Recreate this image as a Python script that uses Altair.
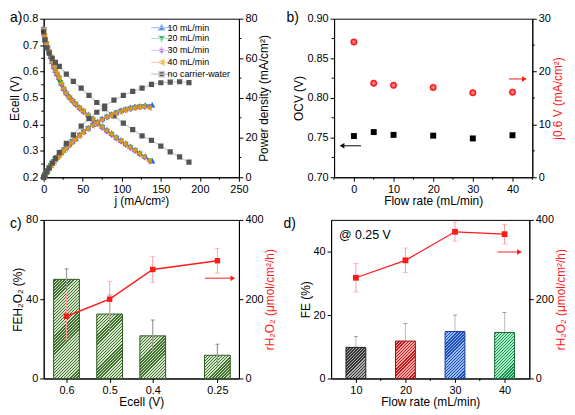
import altair as alt
import pandas as pd

FONT = "Liberation Sans"
RED = "#ff1a1a"

# ---------------- panel a data ----------------
series_names = ["10 mL/min", "20 mL/min", "30 mL/min", "40 mL/min", "no carrier-water"]
marker_colors = ["#1f63e6", "#17a356", "#a455e6", "#d99a1c", "#555555"]
line_colors = ["#a3c8f4", "#ade4c6", "#dfcaf5", "#f3d69e", "#c9c9c9"]
# marker outlines; the open "M-2,0H2" part is only seen in the legend (stroked there)
shape_paths = [
    "M-2,0H2M0,-0.6L0.6,0.48L-0.6,0.48Z",
    "M-2,0H2M0,0.6L0.6,-0.48L-0.6,-0.48Z",
    "M-2,0H2M0,-0.62L0.55,0L0,0.62L-0.55,0Z",
    "M-2,0H2M-0.6,0L0.48,-0.6L0.48,0.6Z",
    "M-2,0H2M-0.5,-0.5H0.5V0.5H-0.5Z",
]

j_10 = [0, 1, 2, 3.5, 5, 7, 9, 11, 13, 15, 17, 19.5, 22.5, 25.5, 29, 33, 37, 41, 46, 51, 57, 63, 69, 75, 81, 87, 93, 99, 105, 111, 117, 123, 130, 139]
E_10 = [0.765, 0.74, 0.722, 0.707, 0.69, 0.676, 0.657, 0.638, 0.62, 0.605, 0.592, 0.578, 0.557, 0.537, 0.52, 0.505, 0.492, 0.479, 0.465, 0.452, 0.437, 0.422, 0.407, 0.393, 0.379, 0.366, 0.352, 0.34, 0.328, 0.316, 0.304, 0.292, 0.279, 0.262]
P_10 = [0, 0.7, 1.4, 2.5, 3.5, 4.7, 5.9, 7.0, 8.1, 9.1, 10.1, 11.3, 12.5, 13.7, 15.1, 16.7, 18.2, 19.6, 21.4, 23.1, 24.9, 26.6, 28.1, 29.5, 30.7, 31.8, 32.7, 33.7, 34.4, 35.1, 35.6, 35.9, 36.3, 36.4]

j_20 = [0, 1, 2, 3.5, 5, 7, 9, 11, 13, 15, 17, 21, 23, 26, 29, 33, 37, 41, 46, 51, 57, 63, 69, 75, 81, 87, 93, 99, 105, 111, 117, 123, 129, 136]
E_20 = [0.758, 0.733, 0.718, 0.703, 0.688, 0.672, 0.652, 0.632, 0.615, 0.6, 0.587, 0.559, 0.548, 0.53, 0.514, 0.5, 0.487, 0.474, 0.46, 0.447, 0.432, 0.417, 0.402, 0.388, 0.374, 0.361, 0.348, 0.336, 0.324, 0.312, 0.3, 0.288, 0.276, 0.261]
P_20 = [0, 0.7, 1.4, 2.5, 3.4, 4.7, 5.9, 7.0, 8.0, 9.0, 10.0, 11.7, 12.6, 13.8, 14.9, 16.5, 18.0, 19.4, 21.2, 22.8, 24.6, 26.3, 27.7, 29.1, 30.3, 31.4, 32.4, 33.3, 34.0, 34.6, 35.1, 35.4, 35.6, 35.5]

j_30 = [0, 1, 2, 3.5, 5, 7, 9, 11, 13, 15, 17, 20, 23, 26, 29, 33, 37, 41, 46, 51, 57, 63, 69, 75, 81, 87, 93, 99, 105, 111, 117, 123, 129, 136]
E_30 = [0.762, 0.737, 0.72, 0.705, 0.69, 0.674, 0.654, 0.634, 0.617, 0.602, 0.589, 0.58, 0.55, 0.531, 0.515, 0.5, 0.487, 0.474, 0.46, 0.447, 0.432, 0.417, 0.402, 0.388, 0.374, 0.361, 0.348, 0.336, 0.324, 0.312, 0.3, 0.288, 0.276, 0.261]
P_30 = [0, 0.7, 1.4, 2.5, 3.5, 4.7, 5.9, 7.0, 8.0, 9.0, 10.0, 11.6, 12.7, 13.8, 14.9, 16.5, 18.0, 19.4, 21.2, 22.8, 24.6, 26.3, 27.7, 29.1, 30.3, 31.4, 32.4, 33.3, 34.0, 34.6, 35.1, 35.4, 35.6, 35.5]

j_40 = [0, 1, 2, 3.5, 5, 7, 9, 11, 13, 15, 17, 19, 22, 25, 28, 32, 36, 40, 45, 50, 56, 62, 68, 74, 80, 86, 92, 98, 104, 110, 116, 122, 128, 135]
E_40 = [0.76, 0.735, 0.72, 0.705, 0.69, 0.675, 0.655, 0.635, 0.618, 0.603, 0.59, 0.576, 0.555, 0.535, 0.518, 0.503, 0.49, 0.477, 0.463, 0.45, 0.435, 0.42, 0.405, 0.391, 0.377, 0.364, 0.35, 0.338, 0.326, 0.314, 0.302, 0.29, 0.278, 0.262]
P_40 = [0, 0.7, 1.4, 2.5, 3.5, 4.7, 5.9, 7.0, 8.0, 9.0, 10.0, 10.9, 12.2, 13.4, 14.5, 16.1, 17.6, 19.1, 20.8, 22.5, 24.4, 26.0, 27.5, 28.9, 30.2, 31.3, 32.2, 33.1, 33.9, 34.5, 35.0, 35.4, 35.6, 35.0]

j_nc = [0, 1.5, 4, 7, 11, 15, 20, 29, 38, 48, 58, 68, 78, 90, 102, 114, 126, 138, 150, 162, 174, 186]
E_nc = [0.75, 0.72, 0.69, 0.67, 0.65, 0.635, 0.62, 0.59, 0.563, 0.537, 0.51, 0.483, 0.46, 0.432, 0.405, 0.38, 0.357, 0.34, 0.318, 0.296, 0.277, 0.257]
P_nc = [0, 1.1, 2.8, 4.7, 7.2, 9.5, 12.4, 17.1, 21.4, 25.8, 29.6, 32.8, 35.9, 38.9, 41.3, 43.3, 45.0, 46.9, 47.7, 48.0, 48.2, 47.8]

minor_a_x = [25, 75, 125, 175, 225]
minor_a_E = [0.25, 0.35, 0.45, 0.55, 0.65, 0.75]
minor_a_P = [10, 30, 50, 70]

# ---------------- panel b data ----------------
flow_b = [0, 5, 10, 20, 30, 40]
ocv_b = [0.752, 0.757, 0.7535, 0.7525, 0.749, 0.753]
j06_b = [25.6, 17.8, 17.4, 17.0, 16.0, 16.1]
minor_b_x = [-5, 5, 15, 25, 35, 45]
minor_b_ocv = [0.725, 0.775, 0.825, 0.875]
minor_b_j = [5, 15, 25]

# ---------------- panel c data ----------------
ecell_c = [0.6, 0.5, 0.4, 0.25]
fe_c = [50.0, 32.5, 21.5, 11.7]
fe_c_err = [5.3, 9.6, 8.0, 5.6]
r_c = [157, 200, 275, 297]
r_c_err = [58, 45, 33, 31]

# ---------------- panel d data ----------------
flow_d = [10, 20, 30, 40]
fe_d = [9.8, 11.8, 14.8, 14.5]
fe_d_err = [3.4, 5.5, 5.2, 6.3]
r_d = [254, 298, 370, 364]
r_d_err = [36, 31, 24, 25]
hatch_d_dark = ["#333333", "#c01c1c", "#1b4cbc", "#17924f"]
hatch_d_light = ["#b0b0b0", "#f8a8a8", "#98bbf6", "#aaeec8"]
bar_d_stroke = ["#1e1e1e", "#8e1010", "#163a8c", "#156b3c"]
minor_d_x = [15, 25, 35]

# annotation arrows (data coordinates)
arrow_b_left = {"flow": [1.8], "flow2": [-3.0], "ocv": [0.7397]}
arrow_b_right = {"flow": [39.1], "flow2": [43.0], "j06": [18.6]}
arrow_c = {"ecell": [0.279], "ecell2": [0.214], "r": [253]}
arrow_d = {"flow": [38.6], "flow2": [43.0], "r": [319]}

WL, WR, H = 197, 200, 160
MT = 2.5        # minor tick length
BAR_C, BAR_D = 26, 20
HATCH = 1.5     # hatch period (px)
DARK_FRAC = 0.45


def panel_label(txt, dx, dy):
    return alt.Chart(pd.DataFrame({"t": [txt]})).mark_text(
        align="left", baseline="alphabetic", fontSize=14, font=FONT, color="black"
    ).encode(x=alt.value(dx), y=alt.value(dy), text="t:N")


def right_axis(title, values, color="black"):
    return alt.Axis(orient="right", values=values, title=title, titleColor=color,
                    titleAngle=270, titleBaseline="top", titlePadding=2)


def minor_x(field, values, xenc, h):
    return alt.Chart(pd.DataFrame({field: values})).mark_rule(color="black", strokeWidth=1).encode(
        x=xenc, y=alt.value(h), y2=alt.value(h + MT))


def minor_y(field, values, yenc, xpos, sign):
    return alt.Chart(pd.DataFrame({field: values})).mark_rule(color="black", strokeWidth=1).encode(
        y=yenc, x=alt.value(xpos), x2=alt.value(xpos + sign * MT))


def hatch_fill(w, h, dark, light):
    """Diagonal (/) stripes drawn with a linear gradient in the bar's bounding box."""
    s = (w + h) / (w * w + h * h)
    n = max(1, int(round((w + h) / HATCH)))
    stops = []
    for k in range(n):
        a, m, b = k / n, (k + DARK_FRAC) / n, (k + 1) / n
        stops += [alt.GradientStop(color=dark, offset=a), alt.GradientStop(color=dark, offset=m),
                  alt.GradientStop(color=light, offset=m), alt.GradientStop(color=light, offset=b)]
    return alt.Gradient(gradient="linear", x1=0, y1=0, x2=w * s, y2=h * s, stops=stops)


# ================= panel a =================
rows = []
for name, js, es, ps in zip(series_names, [j_10, j_20, j_30, j_40, j_nc],
                            [E_10, E_20, E_30, E_40, E_nc], [P_10, P_20, P_30, P_40, P_nc]):
    for jj, ee, pp in zip(js, es, ps):
        rows.append({"series": name, "j": jj, "E": ee, "P": pp})
df_a = pd.DataFrame(rows)

leg_a = alt.Legend(title=None, orient="none", legendX=113, legendY=3,
                   symbolSize=110, symbolStrokeWidth=1.2, labelFontSize=9, labelFont=FONT,
                   rowPadding=0, labelOffset=0, padding=0)

x_a = alt.X("j:Q", scale=alt.Scale(domain=[0, 250], nice=False),
            axis=alt.Axis(values=[0, 50, 100, 150, 200, 250], title="j (mA/cm²)"))
y_E = alt.Y("E:Q", scale=alt.Scale(domain=[0.2, 0.8], nice=False, zero=False),
            axis=alt.Axis(values=[0.2, 0.3, 0.4, 0.5, 0.6, 0.7, 0.8], format=".1f", title="Ecell (V)"))
y_P = alt.Y("P:Q", scale=alt.Scale(domain=[0, 80], nice=False),
            axis=right_axis("Power density (mA/cm²)", [0, 20, 40, 60, 80]))

stroke_a = alt.Stroke("series:N", scale=alt.Scale(domain=series_names, range=line_colors), legend=leg_a)
fill_a = alt.Fill("series:N", scale=alt.Scale(domain=series_names, range=marker_colors), legend=leg_a)
shape_a = alt.Shape("series:N", scale=alt.Scale(domain=series_names, range=shape_paths), legend=leg_a)

base_a = alt.Chart(df_a)
lineE = base_a.mark_line(strokeWidth=1.2).encode(x=x_a, y=y_E, stroke=stroke_a)
ptsE = base_a.mark_point(filled=True, size=110, opacity=1, strokeWidth=0).encode(x=x_a, y=y_E, fill=fill_a, shape=shape_a)
lineP = base_a.mark_line(strokeWidth=1.2).encode(x=x_a, y=y_P, stroke=stroke_a)
ptsP = base_a.mark_point(filled=True, size=110, opacity=1, strokeWidth=0).encode(x=x_a, y=y_P, fill=fill_a, shape=shape_a)

panel_a = alt.layer(
    alt.layer(lineE, ptsE,
              minor_x("j", minor_a_x, x_a, H), minor_y("E", minor_a_E, y_E, 0, -1),
              panel_label("a)", -34, 3)),
    alt.layer(lineP, ptsP, minor_y("P", minor_a_P, y_P, WL, 1)),
).resolve_scale(y="independent").properties(width=WL, height=H)

# ================= panel b =================
df_b = pd.DataFrame({"flow": flow_b, "ocv": ocv_b, "j06": j06_b})
sc_b = alt.Scale(domain=[-5, 45], nice=False, zero=False)
x_b = alt.X("flow:Q", scale=sc_b, axis=alt.Axis(values=[0, 10, 20, 30, 40], title="Flow rate (mL/min)"))
y_ocv = alt.Y("ocv:Q", scale=alt.Scale(domain=[0.7, 0.9], nice=False, zero=False),
              axis=alt.Axis(values=[0.7, 0.75, 0.8, 0.85, 0.9], format=".2f", title="OCV (V)"))
y_j06 = alt.Y("j06:Q", scale=alt.Scale(domain=[0, 30], nice=False),
              axis=right_axis("j0.6 V (mA/cm²)", [0, 10, 20, 30], RED))

ocv_pts = alt.Chart(df_b).mark_point(shape="square", filled=True, size=36, color="black", opacity=1).encode(x=x_b, y=y_ocv)
ab_l = pd.DataFrame(arrow_b_left)
arr_bl = alt.Chart(ab_l).mark_rule(color="black", strokeWidth=1).encode(x=x_b, x2="flow2:Q", y=y_ocv)
arr_bl_head = alt.Chart(ab_l).mark_point(shape="triangle-left", filled=True, size=30, color="black", opacity=1).encode(
    x=alt.X("flow2:Q", scale=sc_b), y=y_ocv)

grad = alt.Gradient(gradient="radial", stops=[alt.GradientStop(color="#ffb0b0", offset=0),
                                              alt.GradientStop(color="#ff2a2a", offset=0.75),
                                              alt.GradientStop(color="#f01010", offset=1)])
j_pts = alt.Chart(df_b).mark_point(shape="circle", filled=True, size=42, fill=grad, stroke="#ee1515",
                                   strokeWidth=0.6, opacity=1).encode(x=x_b, y=y_j06)
ab_r = pd.DataFrame(arrow_b_right)
arr_br = alt.Chart(ab_r).mark_rule(color=RED, strokeWidth=1).encode(x=x_b, x2="flow2:Q", y=y_j06)
arr_br_head = alt.Chart(ab_r).mark_point(shape="triangle-right", filled=True, size=30, color=RED, opacity=1).encode(
    x=alt.X("flow2:Q", scale=sc_b), y=y_j06)

panel_b = alt.layer(
    alt.layer(ocv_pts, arr_bl, arr_bl_head,
              minor_x("flow", minor_b_x, x_b, H), minor_y("ocv", minor_b_ocv, y_ocv, 0, -1),
              panel_label("b)", -48, 3)),
    alt.layer(j_pts, arr_br, arr_br_head, minor_y("j06", minor_b_j, y_j06, WR, 1)),
).resolve_scale(y="independent").properties(width=WR, height=H)

# ================= panel c =================
df_c = pd.DataFrame({"ecell": ecell_c, "fe": fe_c, "fe_err": fe_c_err, "r": r_c, "r_err": r_c_err})
df_c["fe_lo"] = df_c["fe"] - df_c["fe_err"]
df_c["fe_hi"] = df_c["fe"] + df_c["fe_err"]
df_c["r_lo"] = df_c["r"] - df_c["r_err"]
df_c["r_hi"] = df_c["r"] + df_c["r_err"]

sc_c = alt.Scale(domain=[0.2, 0.653], nice=False, zero=False, reverse=True, padding=0)
x_c = alt.X("ecell:Q", scale=sc_c,
            axis=alt.Axis(values=ecell_c, title="Ecell (V)",
                          labelExpr="datum.value == 0.25 ? '0.25' : format(datum.value, '.1f')"))
FE_C_MAX = 80
y_fe_c = alt.Y("fe:Q", scale=alt.Scale(domain=[0, FE_C_MAX], nice=False),
               axis=alt.Axis(values=[0, 20, 40, 60, 80], title="FEH₂O₂ (%)"))
y_r_c = alt.Y("r:Q", scale=alt.Scale(domain=[0, 400], nice=False),
              axis=right_axis("rH₂O₂ (μmol/cm²/h)", [0, 100, 200, 300, 400], RED))

base_c = alt.Chart(df_c)
bars_c = [
    alt.Chart(df_c.iloc[[i]]).mark_bar(
        size=BAR_C, orient="vertical", stroke="#2f5a22", strokeWidth=1,
        fill=hatch_fill(BAR_C, fe_c[i] / FE_C_MAX * H, "#3f6f2c", "#d6e6cb"),
    ).encode(x=x_c, y=y_fe_c)
    for i in range(len(fe_c))
]
err_c = base_c.mark_rule(color="#9a9a9a", strokeWidth=1.2).encode(x=x_c, y=alt.Y("fe_lo:Q"), y2="fe_hi:Q")
cap_c = base_c.mark_tick(orient="horizontal", color="#666666", size=4, thickness=1).encode(x=x_c, y=alt.Y("fe_hi:Q"))
rerr_c = base_c.mark_rule(color="#ff9c9c", strokeWidth=1).encode(x=x_c, y=alt.Y("r_lo:Q"), y2="r_hi:Q")
rcap_hi_c = base_c.mark_tick(orient="horizontal", color="#ff9c9c", size=5, thickness=1).encode(x=x_c, y=alt.Y("r_hi:Q"))
rcap_lo_c = base_c.mark_tick(orient="horizontal", color="#ff9c9c", size=5, thickness=1).encode(x=x_c, y=alt.Y("r_lo:Q"))
rline_c = base_c.mark_line(color=RED, strokeWidth=1.5).encode(x=x_c, y=y_r_c)
rpts_c = base_c.mark_point(shape="square", filled=True, size=30, color=RED, opacity=1).encode(x=x_c, y=y_r_c)
ac = pd.DataFrame(arrow_c)
arr_c = alt.Chart(ac).mark_rule(color=RED, strokeWidth=1).encode(x=x_c, x2="ecell2:Q", y=y_r_c)
arr_c_head = alt.Chart(ac).mark_point(shape="triangle-right", filled=True, size=30, color=RED, opacity=1).encode(
    x=alt.X("ecell2:Q", scale=sc_c), y=y_r_c)

panel_c = alt.layer(
    alt.layer(*bars_c, err_c, cap_c, panel_label("c)", -34, 8)),
    alt.layer(rerr_c, rcap_hi_c, rcap_lo_c, rline_c, rpts_c, arr_c, arr_c_head),
).resolve_scale(y="independent").properties(width=WL, height=H)

# ================= panel d =================
df_d = pd.DataFrame({"flow": flow_d, "fe": fe_d, "fe_err": fe_d_err, "r": r_d, "r_err": r_d_err})
df_d["fe_lo"] = df_d["fe"] - df_d["fe_err"]
df_d["fe_hi"] = df_d["fe"] + df_d["fe_err"]
df_d["r_lo"] = df_d["r"] - df_d["r_err"]
df_d["r_hi"] = df_d["r"] + df_d["r_err"]

sc_d = alt.Scale(domain=[5, 45], nice=False, zero=False, padding=0)
x_d = alt.X("flow:Q", scale=sc_d, axis=alt.Axis(values=flow_d, title="Flow rate (mL/min)"))
FE_D_MAX = 50
y_fe_d = alt.Y("fe:Q", scale=alt.Scale(domain=[0, FE_D_MAX], nice=False),
               axis=alt.Axis(values=[0, 10, 20, 30, 40, 50], title="FE (%)"))
y_r_d = alt.Y("r:Q", scale=alt.Scale(domain=[0, 400], nice=False),
              axis=right_axis("rH₂O₂ (μmol/cm²/h)", [0, 100, 200, 300, 400], RED))

base_d = alt.Chart(df_d)
bars_d = [
    alt.Chart(df_d.iloc[[i]]).mark_bar(
        size=BAR_D, orient="vertical", stroke=bar_d_stroke[i], strokeWidth=1,
        fill=hatch_fill(BAR_D, fe_d[i] / FE_D_MAX * H, hatch_d_dark[i], hatch_d_light[i]),
    ).encode(x=x_d, y=y_fe_d)
    for i in range(len(fe_d))
]
err_d = base_d.mark_rule(color="#c4c4c4", strokeWidth=1.2).encode(x=x_d, y=alt.Y("fe_lo:Q"), y2="fe_hi:Q")
cap_d = base_d.mark_tick(orient="horizontal", color="#777777", size=4, thickness=1).encode(x=x_d, y=alt.Y("fe_hi:Q"))
note_d = alt.Chart(pd.DataFrame({"flow": [6.6], "fe": [45.3], "t": ["@ 0.25 V"]})).mark_text(
    align="left", baseline="middle", fontSize=12.5, font=FONT, color="black").encode(x=x_d, y=y_fe_d, text="t:N")
rerr_d = base_d.mark_rule(color="#ff9c9c", strokeWidth=1).encode(x=x_d, y=alt.Y("r_lo:Q"), y2="r_hi:Q")
rcap_hi_d = base_d.mark_tick(orient="horizontal", color="#ff9c9c", size=5, thickness=1).encode(x=x_d, y=alt.Y("r_hi:Q"))
rcap_lo_d = base_d.mark_tick(orient="horizontal", color="#ff9c9c", size=5, thickness=1).encode(x=x_d, y=alt.Y("r_lo:Q"))
rline_d = base_d.mark_line(color=RED, strokeWidth=1.2).encode(x=x_d, y=y_r_d)
rpts_d = base_d.mark_point(shape="square", filled=True, size=34, color=RED, opacity=1).encode(x=x_d, y=y_r_d)
ad = pd.DataFrame(arrow_d)
arr_d = alt.Chart(ad).mark_rule(color=RED, strokeWidth=1).encode(x=x_d, x2="flow2:Q", y=y_r_d)
arr_d_head = alt.Chart(ad).mark_point(shape="triangle-right", filled=True, size=30, color=RED, opacity=1).encode(
    x=alt.X("flow2:Q", scale=sc_d), y=y_r_d)

panel_d = alt.layer(
    alt.layer(err_d, cap_d, *bars_d, note_d, minor_x("flow", minor_d_x, x_d, H), panel_label("d)", -48, 8)),
    alt.layer(rerr_d, rcap_hi_d, rcap_lo_d, rline_d, rpts_d, arr_d, arr_d_head),
).resolve_scale(y="independent").properties(width=WR, height=H)

# ================= layout =================
indep = dict(fill="independent", stroke="independent", shape="independent", color="independent")
indep_leg = dict(fill="independent", stroke="independent", shape="independent")
row1 = alt.hconcat(panel_a, panel_b, spacing=15).resolve_scale(**indep).resolve_legend(**indep_leg)
row2 = alt.hconcat(panel_c, panel_d, spacing=6).resolve_scale(**indep).resolve_legend(**indep_leg)
chart = alt.vconcat(row1, row2, spacing=6).resolve_scale(**indep).resolve_legend(**indep_leg).properties(
    padding={"left": 0, "top": 0, "right": 0, "bottom": 0}
).configure(font=FONT).configure_axis(
    labelFont=FONT, titleFont=FONT, labelFontSize=11, titleFontSize=12, titleFontWeight="normal",
    domainColor="black", tickColor="black", labelColor="black", titleColor="black",
    grid=False, tickSize=4, labelPadding=2, titlePadding=1, domainWidth=1, tickWidth=1,
    labelFlush=False, labelOverlap=False,
).configure_view(stroke="black", strokeWidth=1)

chart.save("out.html", embed_options={"renderer": "svg", "actions": False})
